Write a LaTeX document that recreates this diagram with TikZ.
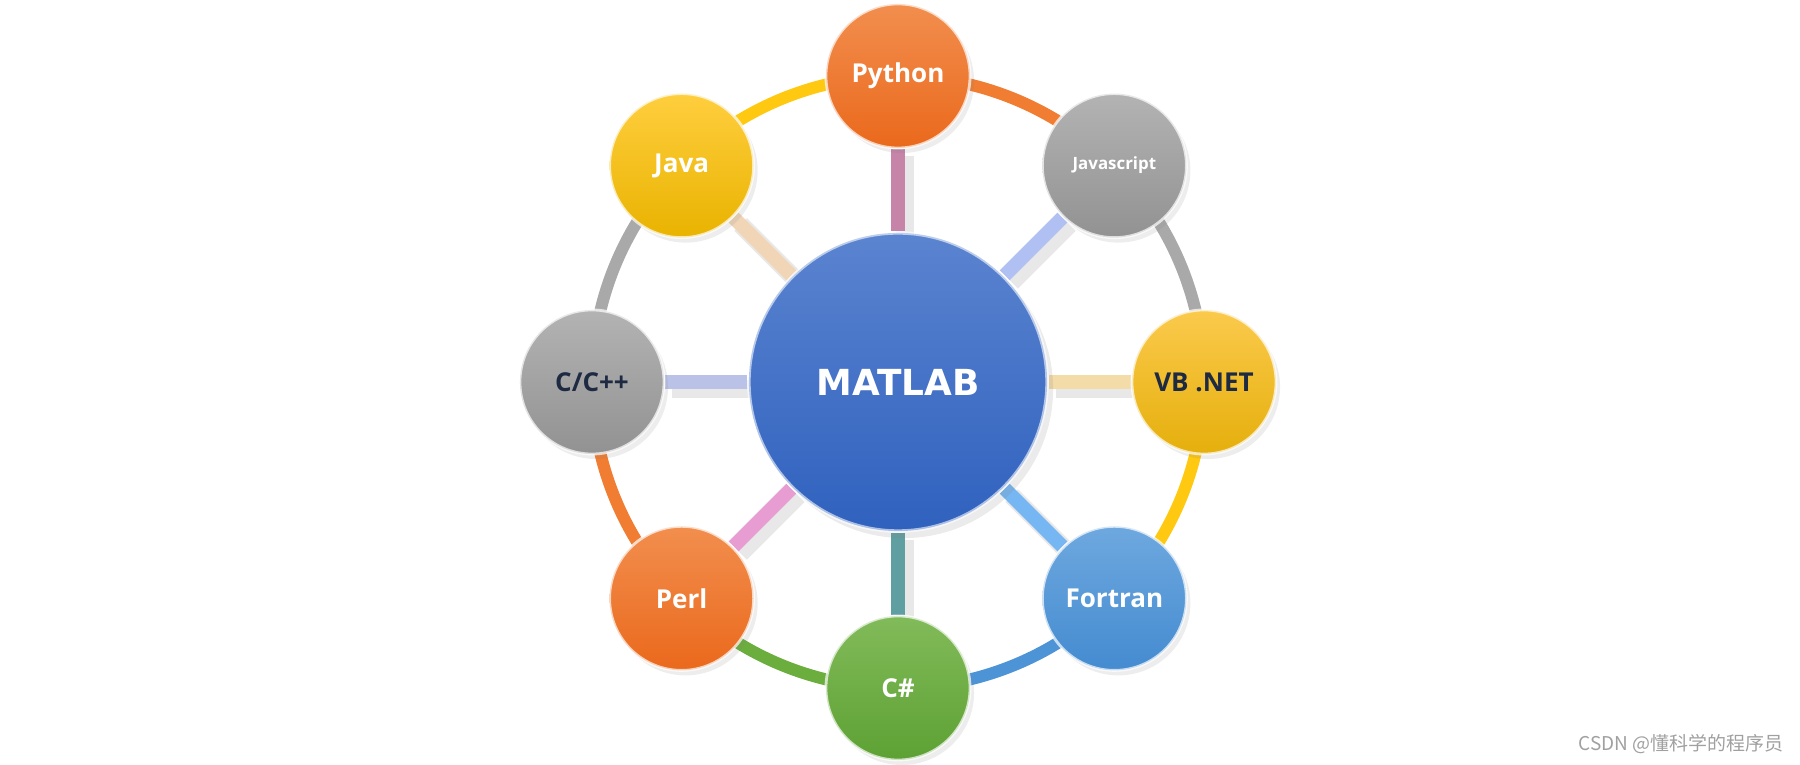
\documentclass[tikz,border=0pt]{standalone}
\usepackage{fontspec}
\setmainfont{Open Sans}
\newfontfamily\matfont{DejaVu Sans}
\newfontfamily\cjkfont{Noto Sans CJK SC}
\usetikzlibrary{positioning,shadows,backgrounds,calc}
\definecolor{PyTop}{HTML}{F28E4E}
\definecolor{PyBot}{HTML}{EA691C}
\definecolor{GrayTop}{HTML}{B3B3B3}
\definecolor{GrayBot}{HTML}{929292}
\definecolor{JavaTop}{HTML}{FFCE3E}
\definecolor{JavaBot}{HTML}{E9B300}
\definecolor{VbTop}{HTML}{FBCA4C}
\definecolor{VbBot}{HTML}{E5AF0C}
\definecolor{FortTop}{HTML}{6EA8DF}
\definecolor{FortBot}{HTML}{448BD0}
\definecolor{CsTop}{HTML}{82BB5A}
\definecolor{CsBot}{HTML}{5DA133}
\definecolor{MatTop}{HTML}{5B84D0}
\definecolor{MatBot}{HTML}{2F61BE}
\definecolor{DarkText}{HTML}{1E2A42}
\definecolor{RingOrange}{HTML}{F07D32}
\definecolor{RingGray}{HTML}{A9A9A9}
\definecolor{RingYellow}{HTML}{FFC912}
\definecolor{RingBlue}{HTML}{4D94D7}
\definecolor{RingGreen}{HTML}{6CAE3D}
\definecolor{SpokePy}{HTML}{C584A8}
\definecolor{SpokeJs}{HTML}{B0C0F2}
\definecolor{SpokeVb}{HTML}{F4DCA8}
\definecolor{SpokeFort}{HTML}{76B6F2}
\definecolor{SpokeCs}{HTML}{5F9FA2}
\definecolor{SpokePerl}{HTML}{E79CD2}
\definecolor{SpokeCpp}{HTML}{BAC2E8}
\definecolor{SpokeJava}{HTML}{F0D6B6}
\definecolor{Mark}{HTML}{A0A0A0}
\tikzset{
  langnode/.style={circle, minimum size=1.44cm, inner sep=0pt, draw=white, draw opacity=0.7, line width=0.8pt, text=white, font=\bfseries\fontsize{7.4}{8}\selectfont, drop shadow={shadow xshift=0.4mm, shadow yshift=-0.5mm, opacity=0.14}},
  pynode/.style={langnode, top color=PyTop, bottom color=PyBot},
  graynode/.style={langnode, top color=GrayTop, bottom color=GrayBot},
  javanode/.style={langnode, top color=JavaTop, bottom color=JavaBot},
  vbnode/.style={langnode, top color=VbTop, bottom color=VbBot, text=DarkText},
  fortnode/.style={langnode, top color=FortTop, bottom color=FortBot},
  csnode/.style={langnode, top color=CsTop, bottom color=CsBot},
  hubnode/.style={circle, minimum size=2.98cm, inner sep=0pt, draw=white, draw opacity=0.6, line width=1pt, top color=MatTop, bottom color=MatBot, text=white, font=\matfont\bfseries\fontsize{10.2}{12}\selectfont, drop shadow={shadow xshift=0.6mm, shadow yshift=-0.7mm, opacity=0.16}},
  ringline/.style={line width=0.12cm},
  spoke/.style={line width=0.14cm},
  spokeshade/.style={line width=0.18cm, draw=black, opacity=0.09, transform canvas={shift={(0.07cm,-0.07cm)}}}
}
\begin{document}
\begin{tikzpicture}[x=0.01cm, y=0.01cm]
  \useasboundingbox (-898,-383) rectangle (902,382);
  \node[hubnode] (matlab) at (0,0) {MATLAB};
  \node[pynode] (python) at (90:306) {Python};
  \node[graynode, font=\bfseries\fontsize{4.8}{6}\selectfont] (js) at (45:306) {Javascript};
  \node[vbnode] (vb) at (0:306) {VB .NET};
  \node[fortnode] (fortran) at (-45:306) {Fortran};
  \node[csnode] (cs) at (-90:306) {C\#};
  \node[pynode] (perl) at (-135:306) {Perl};
  \node[graynode, text=DarkText] (cpp) at (180:306) {C/C++};
  \node[javanode] (java) at (135:306) {Java};
  \node[font=\cjkfont\fontsize{5.4}{7}\selectfont, text=Mark, anchor=east, inner sep=0pt] (mark) at (886,-362) {CSDN @懂科学的程序员};

  \begin{scope}[on background layer]
    \draw[ringline, draw=RingOrange] (python.center) arc[start angle=90, end angle=45, radius=3.06cm];
    \draw[ringline, draw=RingGray] (js.center) arc[start angle=45, end angle=0, radius=3.06cm];
    \draw[ringline, draw=RingYellow] (vb.center) arc[start angle=0, end angle=-45, radius=3.06cm];
    \draw[ringline, draw=RingBlue] (fortran.center) arc[start angle=-45, end angle=-90, radius=3.06cm];
    \draw[ringline, draw=RingGreen] (cs.center) arc[start angle=-90, end angle=-135, radius=3.06cm];
    \draw[ringline, draw=RingOrange] (perl.center) arc[start angle=-135, end angle=-180, radius=3.06cm];
    \draw[ringline, draw=RingGray] (cpp.center) arc[start angle=180, end angle=135, radius=3.06cm];
    \draw[ringline, draw=RingYellow] (java.center) arc[start angle=135, end angle=90, radius=3.06cm];

    \draw[spokeshade] (matlab) -- (python);
    \draw[spokeshade] (matlab) -- (js);
    \draw[spokeshade] (matlab) -- (vb);
    \draw[spokeshade] (matlab) -- (fortran);
    \draw[spokeshade] (matlab) -- (cs);
    \draw[spokeshade] (matlab) -- (perl);
    \draw[spokeshade] (matlab) -- (cpp);
    \draw[spokeshade] (matlab) -- (java);

    \draw[spoke, draw=SpokePy] (matlab) -- (python);
    \draw[spoke, draw=SpokeJs] (matlab) -- (js);
    \draw[spoke, draw=SpokeVb] (matlab) -- (vb);
    \draw[spoke, draw=SpokeFort] (matlab) -- (fortran);
    \draw[spoke, draw=SpokeCs] (matlab) -- (cs);
    \draw[spoke, draw=SpokePerl] (matlab) -- (perl);
    \draw[spoke, draw=SpokeCpp] (matlab) -- (cpp);
    \draw[spoke, draw=SpokeJava] (matlab) -- (java);
  \end{scope}
\end{tikzpicture}
\end{document}
